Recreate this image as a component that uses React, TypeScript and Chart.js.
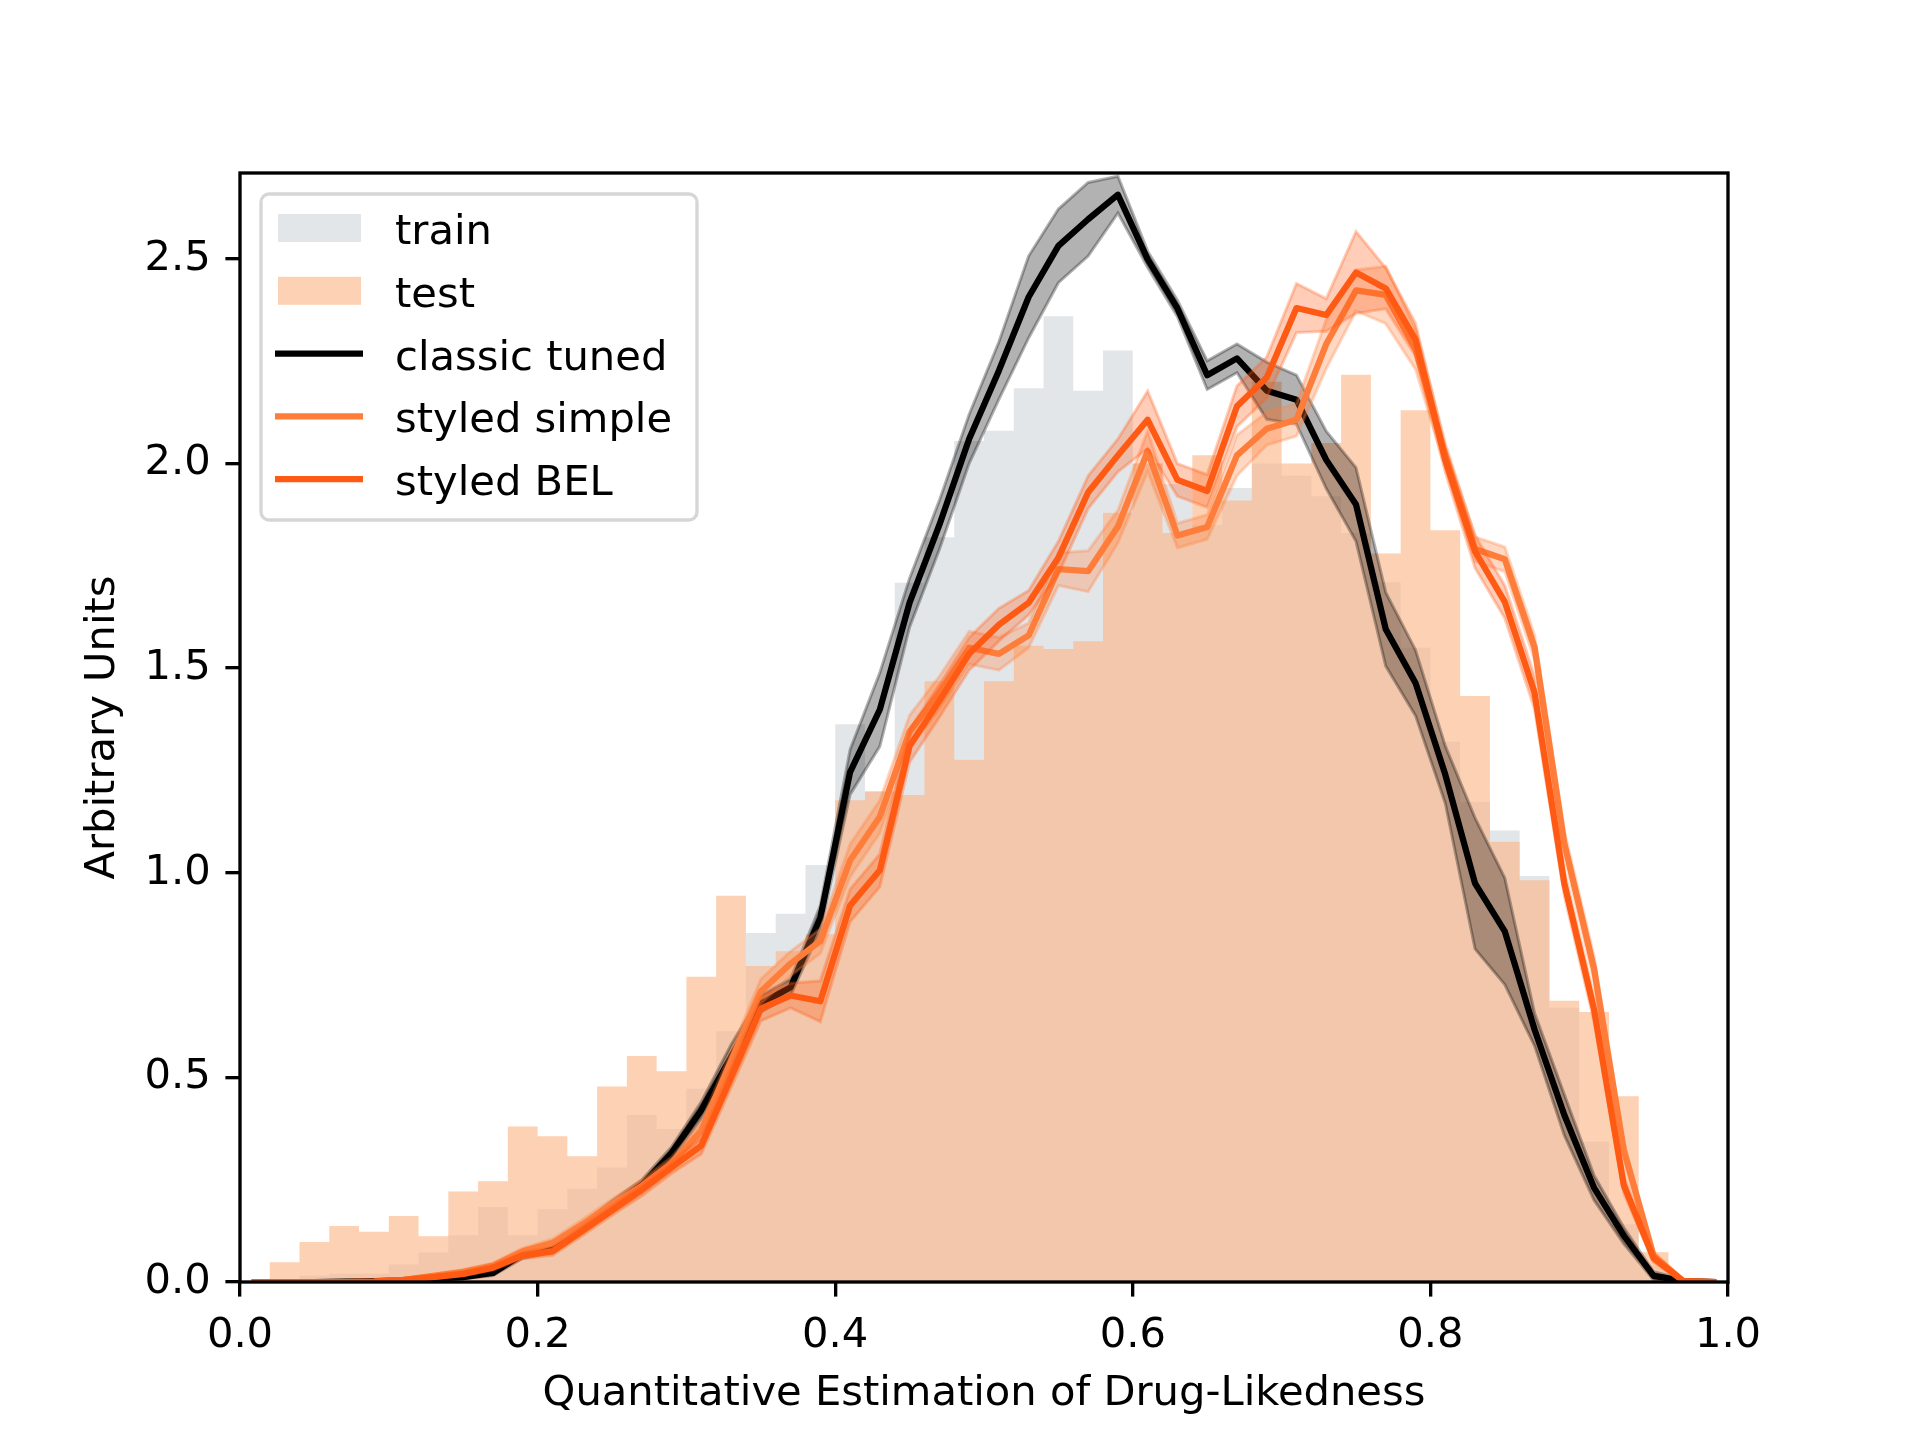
import React, { useEffect, useRef } from 'react';
import { Chart, registerables } from 'chart.js';

Chart.register(...registerables);

// ---------- data ----------
const BIN_WIDTH = 0.02;

// histogram heights, bins of width 0.02 from 0.00 to 1.00
const trainHeights = [
  0, 0.005, 0.015, 0.02, 0.02, 0.043, 0.072, 0.114, 0.183, 0.114,
  0.178, 0.228, 0.28, 0.408, 0.374, 0.472, 0.613, 0.853, 0.9, 1.019,
  1.363, 1.2, 1.709, 1.82, 2.055, 2.08, 2.184, 2.36, 2.178, 2.276,
  2.0, 1.95, 1.85, 1.94, 2.0, 1.97, 1.92, 1.83, 1.71, 1.55,
  1.32, 1.173, 1.103, 0.992, 0.67, 0.343, 0.141, 0.04, 0.005, 0,
];
const testHeights = [
  0, 0.048, 0.098, 0.137, 0.123, 0.161, 0.112, 0.221, 0.246, 0.38,
  0.356, 0.307, 0.478, 0.552, 0.515, 0.746, 0.944, 0.772, 0.808, 0.85,
  1.177, 1.198, 1.19, 1.468, 1.276, 1.468, 1.555, 1.547, 1.566, 1.88,
  2.0, 1.83, 2.02, 1.91, 2.2, 2.0, 2.05, 2.217, 1.78, 2.13,
  1.837, 1.432, 1.076, 0.982, 0.687, 0.66, 0.454, 0.073, 0.01, 0,
];

// model curves, evaluated at bin centres 0.01 ... 0.99
const classicTuned = [
  0, 0, 0, 0.001, 0.002, 0.004, 0.008, 0.012, 0.022, 0.068,
  0.083, 0.131, 0.186, 0.237, 0.315, 0.42, 0.55, 0.68, 0.72, 0.89,
  1.246, 1.399, 1.66, 1.85, 2.06, 2.227, 2.407, 2.532, 2.597, 2.657,
  2.499, 2.379, 2.216, 2.257, 2.178, 2.156, 2.009, 1.9, 1.595, 1.464,
  1.24, 0.974, 0.857, 0.617, 0.408, 0.23, 0.113, 0.015, 0.003, 0,
];
const classicErr = [
  0, 0, 0, 0.001, 0.001, 0.002, 0.003, 0.004, 0.006, 0.01,
  0.01, 0.01, 0.012, 0.012, 0.015, 0.02, 0.03, 0.02, 0.02, 0.03,
  0.055, 0.09, 0.06, 0.06, 0.06, 0.07, 0.1, 0.09, 0.09, 0.045,
  0.02, 0.02, 0.035, 0.035, 0.07, 0.06, 0.07, 0.09, 0.09, 0.08,
  0.07, 0.16, 0.13, 0.04, 0.05, 0.03, 0.02, 0.01, 0.003, 0,
];
const styledSimple = [
  0, 0, 0, 0, 0.001, 0.005, 0.015, 0.025, 0.04, 0.075,
  0.095, 0.14, 0.19, 0.235, 0.29, 0.37, 0.54, 0.71, 0.778, 0.833,
  1.03, 1.137, 1.345, 1.44, 1.55, 1.535, 1.58, 1.742, 1.737, 1.846,
  2.03, 1.824, 1.845, 2.02, 2.085, 2.107, 2.292, 2.423, 2.412, 2.28,
  2.02, 1.791, 1.766, 1.551, 1.072, 0.765, 0.322, 0.064, 0.002, 0,
];
const styledSimpleErr = [
  0, 0, 0, 0, 0.002, 0.003, 0.004, 0.005, 0.006, 0.008,
  0.01, 0.012, 0.012, 0.015, 0.015, 0.02, 0.025, 0.03, 0.03, 0.03,
  0.04, 0.04, 0.04, 0.04, 0.04, 0.04, 0.03, 0.04, 0.05, 0.04,
  0.05, 0.03, 0.03, 0.05, 0.04, 0.04, 0.06, 0.05, 0.07, 0.05,
  0.03, 0.03, 0.03, 0.03, 0.03, 0.03, 0.02, 0.01, 0.003, 0,
];
const styledBEL = [
  0, 0, 0, 0, 0.001, 0.005, 0.012, 0.02, 0.035, 0.065,
  0.075, 0.125, 0.175, 0.225, 0.28, 0.333, 0.5, 0.668, 0.7, 0.686,
  0.92, 1.006, 1.31, 1.42, 1.535, 1.606, 1.66, 1.77, 1.93, 2.02,
  2.107, 1.96, 1.933, 2.14, 2.21, 2.38, 2.363, 2.467, 2.428, 2.303,
  2.009, 1.785, 1.662, 1.44, 0.974, 0.666, 0.236, 0.058, 0.002, 0,
];
const styledBELErr = [
  0, 0, 0, 0, 0.002, 0.003, 0.004, 0.005, 0.006, 0.008,
  0.01, 0.012, 0.012, 0.015, 0.015, 0.02, 0.025, 0.03, 0.03, 0.05,
  0.04, 0.04, 0.04, 0.04, 0.04, 0.04, 0.03, 0.04, 0.04, 0.04,
  0.07, 0.04, 0.04, 0.05, 0.05, 0.06, 0.04, 0.1, 0.05, 0.04,
  0.03, 0.04, 0.04, 0.04, 0.03, 0.03, 0.02, 0.01, 0.003, 0,
];

const xTickValues = [0, 0.2, 0.4, 0.6, 0.8, 1.0];
const yTickValues = [0, 0.5, 1.0, 1.5, 2.0, 2.5];
const X_MIN = 0;
const X_MAX = 1;
const Y_MIN = 0;
const Y_MAX = 2.71;

const X_LABEL = 'Quantitative Estimation of Drug-Likedness';
const Y_LABEL = 'Arbitrary Units';

// ---------- styles ----------
const FONT_FAMILY = "'DejaVu Sans', 'Liberation Sans', sans-serif";
const FONT_SIZE = 41.67;
const LINE_WIDTH = 6.25;
const BAND_EDGE_WIDTH = 3;
const TRAIN_FILL = 'rgba(208, 213, 218, 0.6)';
const TEST_FILL = 'rgba(252, 178, 130, 0.6)';
const CLASSIC_COLOR = '#000000';
const SIMPLE_COLOR = '#ff7d3a';
const BEL_COLOR = '#ff5a14';

const binCenters = trainHeights.map((_, i) => BIN_WIDTH * (i + 0.5));

function stepPoints(heights: number[]) {
  // point i sits at the left edge of bin i; 'before' stepping holds its height to the next edge
  const pts = heights.map((h, i) => ({ x: i * BIN_WIDTH, y: h }));
  pts.push({ x: heights.length * BIN_WIDTH, y: heights[heights.length - 1] });
  return pts;
}
function curvePoints(values: number[]) {
  return values.map((v, i) => ({ x: binCenters[i], y: v }));
}
function bandPoints(values: number[], err: number[], sign: number) {
  return values.map((v, i) => ({ x: binCenters[i], y: Math.max(0, v + sign * err[i]) }));
}
function rgba(hex: string, a: number) {
  const n = parseInt(hex.slice(1), 16);
  return `rgba(${(n >> 16) & 255}, ${(n >> 8) & 255}, ${n & 255}, ${a})`;
}

const legendItems = [
  { kind: 'patch', color: 'rgb(227, 230, 233)', label: 'train' },
  { kind: 'patch', color: 'rgb(253, 209, 180)', label: 'test' },
  { kind: 'line', color: CLASSIC_COLOR, label: 'classic tuned' },
  { kind: 'line', color: SIMPLE_COLOR, label: 'styled simple' },
  { kind: 'line', color: BEL_COLOR, label: 'styled BEL' },
];

const framePlugin = {
  id: 'axesFrame',
  afterDatasetsDraw(chart: any) {
    const { ctx, chartArea: a } = chart;
    ctx.save();
    ctx.strokeStyle = '#000';
    ctx.lineWidth = 3.33;
    ctx.strokeRect(a.left, a.top, a.right - a.left, a.bottom - a.top);
    ctx.restore();
  },
};

const legendPlugin = {
  id: 'innerLegend',
  afterDraw(chart: any) {
    const { ctx, chartArea: a } = chart;
    const x0 = a.left + 21;
    const y0 = a.top + 21;
    const w = 436;
    const h = 326;
    const r = 8;
    ctx.save();
    ctx.beginPath();
    ctx.moveTo(x0 + r, y0);
    ctx.lineTo(x0 + w - r, y0);
    ctx.arcTo(x0 + w, y0, x0 + w, y0 + r, r);
    ctx.lineTo(x0 + w, y0 + h - r);
    ctx.arcTo(x0 + w, y0 + h, x0 + w - r, y0 + h, r);
    ctx.lineTo(x0 + r, y0 + h);
    ctx.arcTo(x0, y0 + h, x0, y0 + h - r, r);
    ctx.lineTo(x0, y0 + r);
    ctx.arcTo(x0, y0, x0 + r, y0, r);
    ctx.closePath();
    ctx.fillStyle = 'rgba(255, 255, 255, 0.8)';
    ctx.fill();
    ctx.strokeStyle = 'rgba(204, 204, 204, 0.8)';
    ctx.lineWidth = 3.33;
    ctx.stroke();

    ctx.font = `${FONT_SIZE}px ${FONT_FAMILY}`;
    ctx.textBaseline = 'alphabetic';
    ctx.textAlign = 'left';
    legendItems.forEach((item, i) => {
      const cy = y0 + 34 + i * 62.8;
      if (item.kind === 'patch') {
        ctx.fillStyle = item.color;
        ctx.fillRect(x0 + 17, cy - 14, 83, 28);
      } else {
        ctx.strokeStyle = item.color;
        ctx.lineWidth = LINE_WIDTH;
        ctx.lineCap = 'butt';
        ctx.beginPath();
        ctx.moveTo(x0 + 14, cy);
        ctx.lineTo(x0 + 102, cy);
        ctx.stroke();
      }
      ctx.fillStyle = '#000';
      ctx.fillText(item.label, x0 + 134, cy + 16);
    });
    ctx.restore();
  },
};

export default function App() {
  const canvasRef = useRef<HTMLCanvasElement | null>(null);

  useEffect(() => {
    document.body.style.margin = '0';
    const canvas = canvasRef.current;
    if (!canvas) return;

    const font = { family: FONT_FAMILY, size: FONT_SIZE };
    const curve = (label: string, values: number[], color: string, order: number) => ({
      label,
      data: curvePoints(values),
      borderColor: color,
      borderWidth: LINE_WIDTH,
      borderJoinStyle: 'round' as const,
      borderCapStyle: 'square' as const,
      pointRadius: 0,
      fill: false,
      tension: 0,
      order,
    });
    const bandLo = (label: string, values: number[], err: number[], color: string, order: number) => ({
      label,
      data: bandPoints(values, err, -1),
      borderColor: color,
      borderWidth: BAND_EDGE_WIDTH,
      pointRadius: 0,
      fill: false,
      tension: 0,
      order,
    });
    const bandHi = (label: string, values: number[], err: number[], color: string, fillColor: string, order: number) => ({
      label,
      data: bandPoints(values, err, 1),
      borderColor: color,
      borderWidth: BAND_EDGE_WIDTH,
      backgroundColor: fillColor,
      pointRadius: 0,
      fill: '-1',
      tension: 0,
      order,
    });

    const chart = new Chart(canvas, {
      type: 'line',
      data: {
        datasets: [
          {
            label: 'train',
            data: stepPoints(trainHeights),
            stepped: 'before',
            borderColor: 'rgba(0,0,0,0)',
            borderWidth: 0,
            backgroundColor: TRAIN_FILL,
            fill: 'origin',
            pointRadius: 0,
            order: 20,
          } as any,
          {
            label: 'test',
            data: stepPoints(testHeights),
            stepped: 'before',
            borderColor: 'rgba(0,0,0,0)',
            borderWidth: 0,
            backgroundColor: TEST_FILL,
            fill: 'origin',
            pointRadius: 0,
            order: 19,
          } as any,
          bandLo('classic lo', classicTuned, classicErr, rgba('#000000', 0.3), 18),
          bandHi('classic hi', classicTuned, classicErr, rgba('#000000', 0.3), rgba('#000000', 0.3), 18),
          curve('classic tuned', classicTuned, CLASSIC_COLOR, 17),
          bandLo('simple lo', styledSimple, styledSimpleErr, rgba(SIMPLE_COLOR, 0.3), 16),
          bandHi('simple hi', styledSimple, styledSimpleErr, rgba(SIMPLE_COLOR, 0.3), rgba(SIMPLE_COLOR, 0.3), 16),
          curve('styled simple', styledSimple, SIMPLE_COLOR, 15),
          bandLo('bel lo', styledBEL, styledBELErr, rgba(BEL_COLOR, 0.3), 14),
          bandHi('bel hi', styledBEL, styledBELErr, rgba(BEL_COLOR, 0.3), rgba(BEL_COLOR, 0.3), 14),
          curve('styled BEL', styledBEL, BEL_COLOR, 13),
        ] as any,
      },
      options: {
        animation: false,
        responsive: false,
        devicePixelRatio: 1,
        parsing: false as any,
        normalized: true,
        layout: { padding: { left: 0, top: 173, right: 192, bottom: 0 } },
        plugins: {
          legend: { display: false },
          tooltip: { enabled: false },
        },
        scales: {
          x: {
            type: 'linear',
            min: X_MIN,
            max: X_MAX,
            afterBuildTicks: (s: any) => {
              s.ticks = xTickValues.map((v) => ({ value: v }));
            },
            afterFit: (s: any) => {
              s.height = 158;
            },
            ticks: {
              color: '#000',
              font,
              padding: 14.6,
              maxRotation: 0,
              autoSkip: false,
              callback: (v: any) => Number(v).toFixed(1),
            },
            grid: {
              drawOnChartArea: false,
              drawTicks: true,
              tickLength: 14.6,
              tickWidth: 3.33,
              tickColor: '#000',
              color: '#000',
              lineWidth: 3.33,
            },
            border: { display: false },
            title: {
              display: true,
              text: X_LABEL,
              color: '#000',
              font,
              padding: { top: 0, bottom: 20.5 },
            },
          },
          y: {
            type: 'linear',
            min: Y_MIN,
            max: Y_MAX,
            afterBuildTicks: (s: any) => {
              s.ticks = yTickValues.map((v) => ({ value: v }));
            },
            afterFit: (s: any) => {
              s.width = 240;
            },
            ticks: {
              color: '#000',
              font,
              padding: 14.6,
              autoSkip: false,
              callback: (v: any) => Number(v).toFixed(1),
            },
            grid: {
              drawOnChartArea: false,
              drawTicks: true,
              tickLength: 14.6,
              tickWidth: 3.33,
              tickColor: '#000',
              color: '#000',
              lineWidth: 3.33,
            },
            border: { display: false },
            title: {
              display: true,
              text: Y_LABEL,
              color: '#000',
              font,
              padding: { top: 78.5, bottom: 0 },
            },
          },
        },
      } as any,
      plugins: [framePlugin, legendPlugin],
    });

    return () => {
      chart.destroy();
    };
  }, []);

  return (
    <div style={{ width: 1920, height: 1440, background: '#fff' }}>
      <canvas ref={canvasRef} width={1920} height={1440} style={{ display: 'block', width: 1920, height: 1440 }} />
    </div>
  );
}
